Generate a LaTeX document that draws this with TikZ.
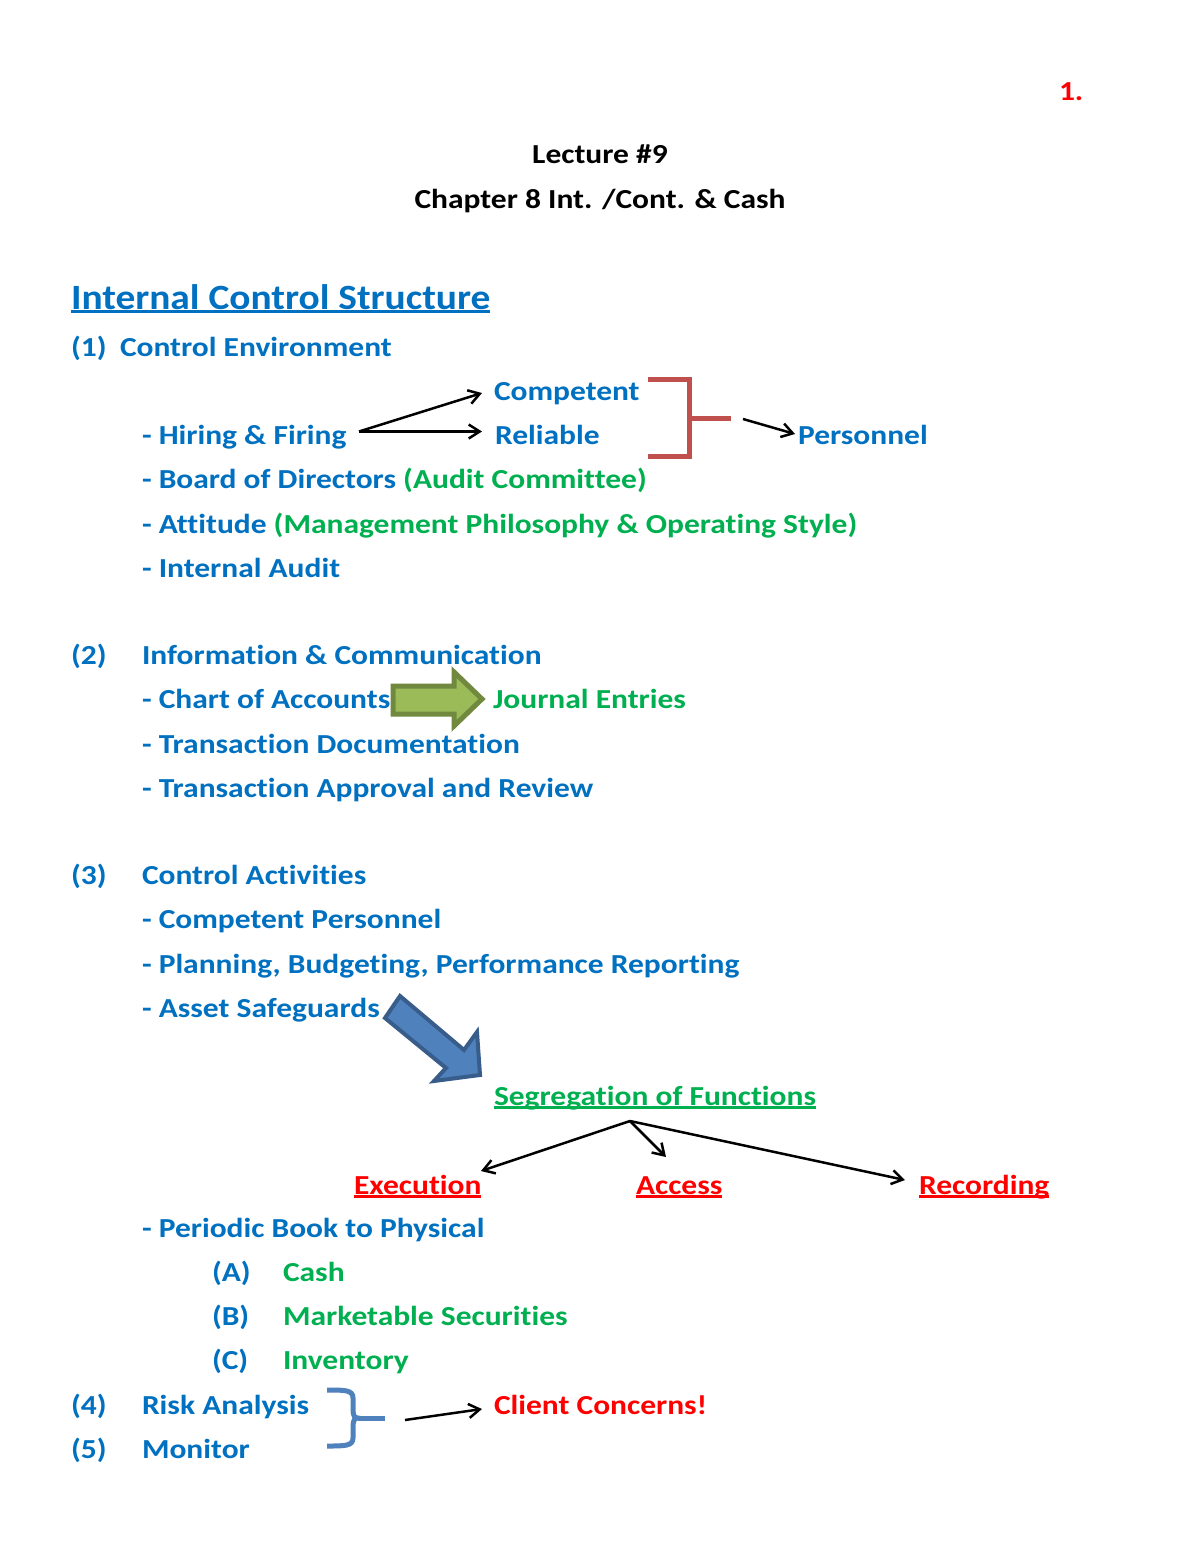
\documentclass[tikz,border=0pt]{standalone}
\usepackage{fontspec}
\setmainfont[FakeStretch=1.145,Ligatures=NoCommon]{Carlito}
\newfontfamily\headf[FakeStretch=1.11,Ligatures=NoCommon]{Carlito}
\usetikzlibrary{arrows.meta}
\definecolor{tblue}{HTML}{0070C0}
\definecolor{tgreen}{HTML}{00B050}
\definecolor{tred}{HTML}{FF0000}
\definecolor{brred}{HTML}{C0504D}
\definecolor{brblue}{HTML}{4F81BD}
\definecolor{agreen}{HTML}{9BBB59}
\definecolor{agreenb}{HTML}{71893F}
\definecolor{ablue}{HTML}{4F81BD}
\definecolor{abluen}{HTML}{385D8A}
\newcommand{\ulx}[1]{\setbox0\hbox{#1}\rlap{\rule[-3.5pt]{\wd0}{2.5pt}}\box0}
\tikzset{
  x=1pt,y=-1pt,
  txt/.style={anchor=base west,inner sep=0pt,outer sep=0pt,font=\fontsize{27.5}{30}\selectfont\bfseries,text=tblue},
  gtxt/.style={txt,text=tgreen},
  rtxt/.style={txt,text=tred},
  ktxt/.style={txt,text=black,anchor=base},
  conn/.style={draw=black,line width=2.5pt,-{Straight Barb[length=11pt,width=14pt,line width=2.5pt]}},
  redbr/.style={draw=brred,line width=5pt},
  blubr/.style={draw=brblue,line width=5pt},
}
\begin{document}
\begin{tikzpicture}
\useasboundingbox (0,0) rectangle (1200,1553);
\fill[white] (0,0) rectangle (1200,1553);
% headings
\node[rtxt] (pg) at (1059,100) {1.};
\node[ktxt] (lec) at (600,163) {Lecture \#9};
\node[ktxt] (chap) at (600,208) {Chapter 8 Int. /Cont. \& Cash};
\node[txt,font=\fontsize{35.5}{38}\selectfont\headf\bfseries] (ics) at (71,309) {\ulx{Internal Control Structure}};
% (1)
\node[txt] (n1) at (71,356) {(1)};
\node[txt] (ce) at (120,356) {Control Environment};
\node[txt] (comp) at (494,400) {Competent};
\node[txt] (hire) at (142,444) {- Hiring \& Firing};
\node[txt] (rel) at (495,444) {Reliable};
\node[txt] (pers) at (798,444) {Personnel};
\node[txt] (bod) at (142,488) {- Board of Directors \textcolor{tgreen}{(Audit Committee)}};
\node[txt] (att) at (142,533) {- Attitude \textcolor{tgreen}{(Management Philosophy \& Operating Style)}};
\node[txt] (ia) at (142,577) {- Internal Audit};
% (2)
\node[txt] (n2) at (71,664) {(2)};
\node[txt] (ic) at (142,664) {Information \& Communication};
\node[txt] (coa) at (142,708) {- Chart of Accounts};
\node[gtxt] (je) at (493,708) {Journal Entries};
\node[txt] (td) at (142,753) {- Transaction Documentation};
\node[txt] (tar) at (142,797) {- Transaction Approval and Review};
% (3)
\node[txt] (n3) at (71,884) {(3)};
\node[txt] (ca) at (142,884) {Control Activities};
\node[txt] (cp) at (142,928) {- Competent Personnel};
\node[txt] (pb) at (142,973) {- Planning, Budgeting, Performance Reporting};
\node[txt] (as) at (142,1017) {- Asset Safeguards};
\node[gtxt] (seg) at (494,1105) {\ulx{Segregation of Functions}};
\node[rtxt] (exe) at (354,1194) {\ulx{Execution}};
\node[rtxt] (acc) at (636,1194) {\ulx{Access}};
\node[rtxt] (rec) at (919,1194) {\ulx{Recording}};
\node[txt] (pbp) at (142,1237) {- Periodic Book to Physical};
\node[txt] (a) at (212,1281) {(A)};
\node[gtxt] (cash) at (283,1281) {Cash};
\node[txt] (b) at (212,1325) {(B)};
\node[gtxt] (ms) at (283,1325) {Marketable Securities};
\node[txt] (c) at (212,1369) {(C)};
\node[gtxt] (inv) at (283,1369) {Inventory};
\node[txt] (n4) at (71,1414) {(4)};
\node[txt] (ra) at (142,1414) {Risk Analysis};
\node[rtxt] (cc) at (494,1414) {Client Concerns!};
\node[txt] (n5) at (71,1458) {(5)};
\node[txt] (mon) at (142,1458) {Monitor};
% connector ends
\coordinate (hs) at (359,431.5);
\coordinate (ce1) at (482,393);
\coordinate (ce2) at (482,431.5);
\coordinate (ps) at (743,419);
\coordinate (pe) at (795,434);
\coordinate (sp) at (630,1121);
\coordinate (ex) at (481,1171);
\coordinate (ac) at (666,1157);
\coordinate (re) at (905,1180);
\coordinate (rs) at (405,1420);
\coordinate (re2) at (482,1409);
\draw[conn] (hs) -- (ce1);
\draw[conn] (hs) -- (ce2);
\draw[conn] (ps) -- (pe);
\draw[conn] (sp) -- (ex);
\draw[conn] (sp) -- (ac);
\draw[conn] (sp) -- (re);
\draw[conn] (rs) -- (re2);
% red bracket
\coordinate (rb1) at (648,379);
\coordinate (rb2) at (689.5,379);
\coordinate (rb3) at (689.5,456);
\coordinate (rb4) at (648,456);
\coordinate (rbm) at (689.5,418);
\coordinate (rbe) at (731,418);
\draw[redbr,miter limit=4] (rb1) -- (rb2) -- (rb3) -- (rb4);
\draw[redbr] (rbm) -- (rbe);
% blue brace
\draw[blubr] (327,1390) .. controls (345,1390) and (353,1390) .. (353,1398) -- (353,1410) .. controls (353,1416) and (355,1418) .. (358,1418) .. controls (355,1418) and (353,1420) .. (353,1426) -- (353,1438) .. controls (353,1446) and (345,1446) .. (327,1446);
\draw[blubr] (358,1418) -- (385,1418);
% block arrows
\draw[draw=agreenb,fill=agreen,line width=5pt,miter limit=6]
  (393,686) -- (454,686) -- (454,672) -- (482,699) -- (454,726) -- (454,714) -- (393,714) -- cycle;
\draw[draw=abluen,fill=ablue,line width=4pt,miter limit=6]
  (400,996) -- (464,1050) -- (477,1032) -- (480,1075) -- (434,1081) -- (446,1068) -- (385,1018) -- cycle;
\end{tikzpicture}
\end{document}
